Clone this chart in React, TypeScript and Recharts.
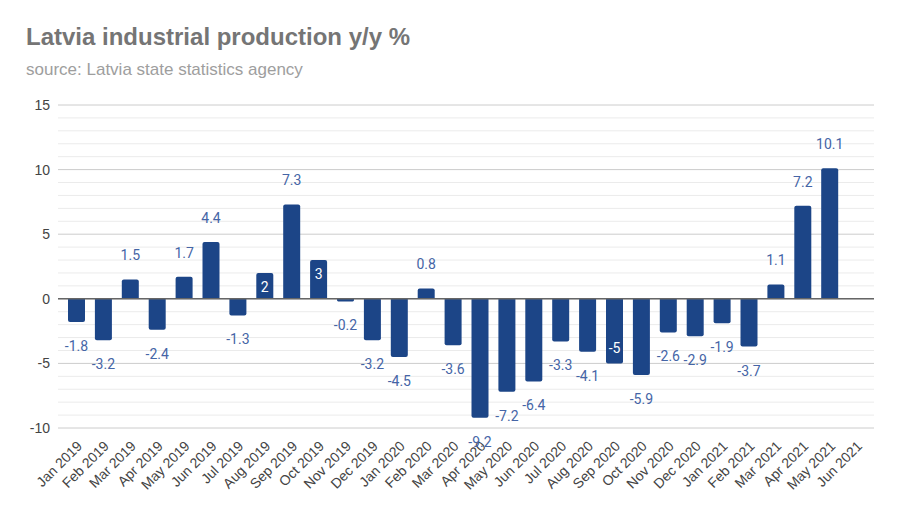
import React from 'react';
import { BarChart, Bar, XAxis, YAxis, CartesianGrid, ReferenceLine, LabelList } from 'recharts';

const months = [
  'Jan 2019', 'Feb 2019', 'Mar 2019', 'Apr 2019', 'May 2019', 'Jun 2019',
  'Jul 2019', 'Aug 2019', 'Sep 2019', 'Oct 2019', 'Nov 2019', 'Dec 2019',
  'Jan 2020', 'Feb 2020', 'Mar 2020', 'Apr 2020', 'May 2020', 'Jun 2020',
  'Jul 2020', 'Aug 2020', 'Sep 2020', 'Oct 2020', 'Nov 2020', 'Dec 2020',
  'Jan 2021', 'Feb 2021', 'Mar 2021', 'Apr 2021', 'May 2021', 'Jun 2021',
];

const yoyValues: (number | null)[] = [
  -1.8, -3.2, 1.5, -2.4, 1.7, 4.4,
  -1.3, 2, 7.3, 3, -0.2, -3.2,
  -4.5, 0.8, -3.6, -9.2, -7.2, -6.4,
  -3.3, -4.1, -5, -5.9, -2.6, -2.9,
  -1.9, -3.7, 1.1, 7.2, 10.1, null,
];

// labels the original draws inside the bar
const insideLabels = ['Aug 2019', 'Oct 2019', 'Sep 2020'];

const majorTicks = [-10, -5, 0, 5, 10, 15];
const minorTicks = [-9, -8, -7, -6, -4, -3, -2, -1, 1, 2, 3, 4, 6, 7, 8, 9, 11, 12, 13, 14];

const chartData = months.map((m, i) => ({ month: m, value: yoyValues[i] }));

const BAR_COLOR = '#1c4587';
const LABEL_COLOR = '#4565a6';
const SANS = '"Liberation Sans", Arial, sans-serif';

const renderLabel = (props: any) => {
  const { x, y, width, height, value, index } = props;
  if (value === null || value === undefined) return null;
  const top = Math.min(y, y + height);
  const bottom = Math.max(y, y + height);
  const cx = x + width / 2;
  const inside = insideLabels.includes(months[index]);
  let ly: number;
  if (value >= 0) ly = inside ? top + 14 : top - 24;
  else ly = inside ? bottom - 15 : bottom + 24;
  return (
    <text
      x={cx}
      y={ly}
      dy="0.35em"
      textAnchor="middle"
      fontSize={14}
      fontFamily="Roboto"
      fill={inside ? '#ffffff' : LABEL_COLOR}
    >
      {value}
    </text>
  );
};

const MonthTick = (props: any) => {
  const { x, y, payload } = props;
  return (
    <g transform={`translate(${x + 6.5},${y + 19})`}>
      <text x={0} y={0} textAnchor="end" transform="rotate(-45)" fontSize={14} fontFamily={SANS} fill="#444">
        {payload.value}
      </text>
    </g>
  );
};

const App: React.FC = () => {
  return (
    <div style={{ position: 'absolute', left: 0, top: 0, width: 900, height: 510, background: '#fff' }}>
      <div style={{ position: 'absolute', left: 26, top: 23, fontSize: 24, fontWeight: 'bold', color: '#757575', fontFamily: SANS }}>
        Latvia industrial production y/y %
      </div>
      <div style={{ position: 'absolute', left: 26, top: 60, fontSize: 17, color: '#9e9e9e', fontFamily: SANS }}>
        source: Latvia state statistics agency
      </div>
      <BarChart
        width={900}
        height={510}
        data={chartData}
        margin={{ top: 105, right: 26, left: 0, bottom: 2 }}
        barSize={17}
      >
        <CartesianGrid vertical={false} horizontalValues={minorTicks} stroke="#ebebeb" />
        <CartesianGrid vertical={false} stroke="#cccccc" />
        <XAxis
          dataKey="month"
          interval={0}
          height={80}
          tickLine={false}
          axisLine={false}
          tickSize={0}
          tickMargin={0}
          padding={{ left: 5, right: 4 }}
          tick={<MonthTick />}
        />
        <YAxis
          domain={[-10, 15]}
          ticks={majorTicks}
          interval={0}
          width={58}
          tickLine={false}
          axisLine={false}
          tick={{ fontSize: 14, fill: '#444', fontFamily: SANS }}
        />
        <ReferenceLine y={0} stroke="#666" strokeWidth={1.5} />
        <Bar dataKey="value" fill={BAR_COLOR} radius={[2, 2, 0, 0]} isAnimationActive={false}>
          <LabelList dataKey="value" content={renderLabel} />
        </Bar>
      </BarChart>
    </div>
  );
};

export default App;
